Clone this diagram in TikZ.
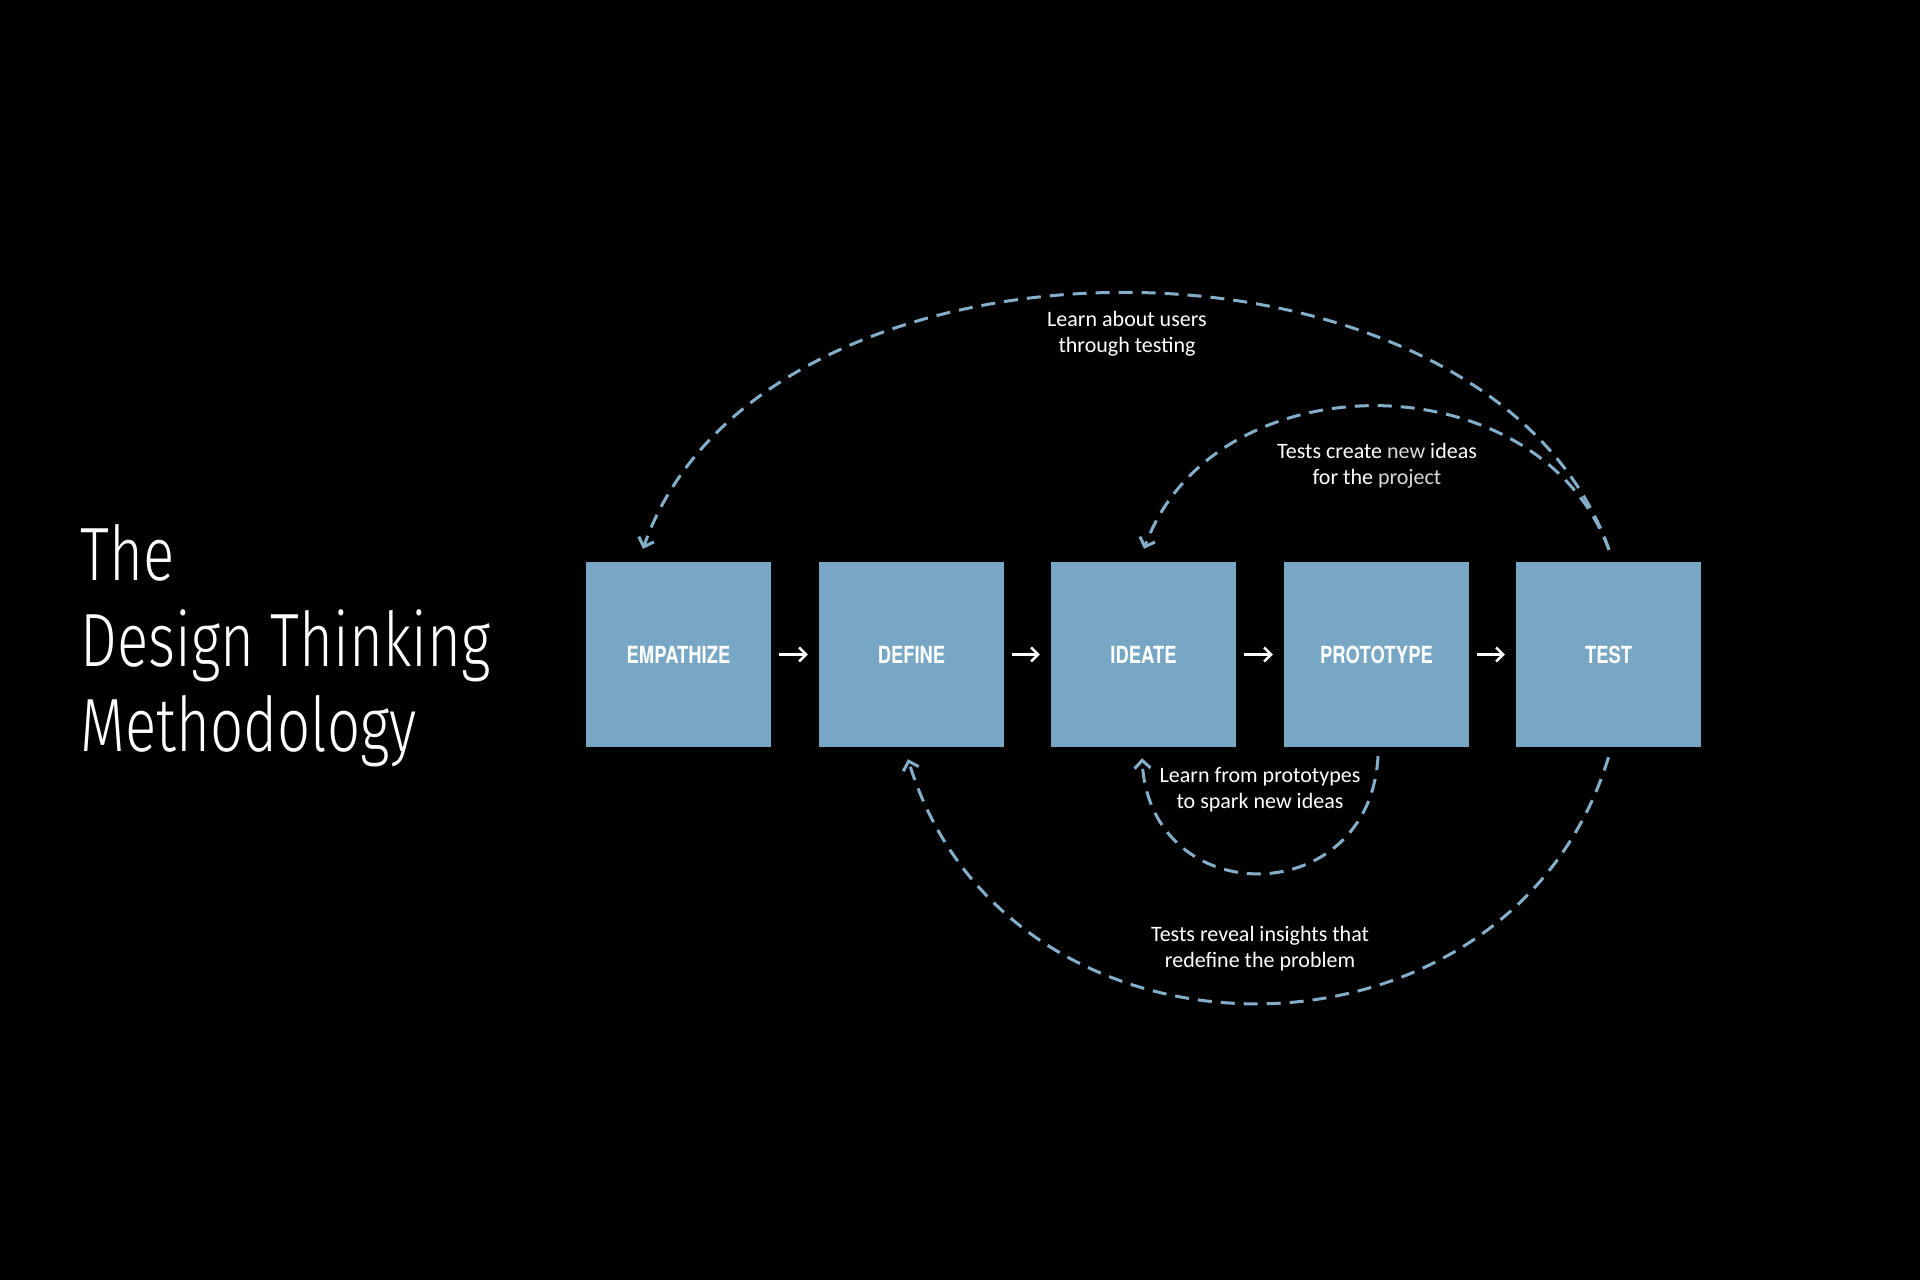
\documentclass[tikz,border=0pt]{standalone}
\usepackage{fontspec}
\usetikzlibrary{arrows.meta,calc}
\setmainfont{Carlito}
\newfontfamily\titlefont{Fira Sans Light}[FakeStretch=0.77]
\newfontfamily\boxfont{TeX Gyre Heros}[FakeStretch=0.78]
\definecolor{boxblue}{HTML}{78A7C5}
\definecolor{loopblue}{HTML}{84AFCB}
\definecolor{softwhite}{HTML}{D9D9D9}
\tikzset{
  stage/.style={rectangle, fill=boxblue, minimum width=185pt, minimum height=185pt, inner sep=0pt,
    font=\boxfont\bfseries\fontsize{23.6}{28}\selectfont, text=white},
  flow/.style={draw=white, line width=2.5pt, -{Straight Barb[length=7pt,width=14pt]}},
  loopline/.style={draw=loopblue, line width=3pt, dash pattern=on 14pt off 9pt,
    -{Straight Barb[length=8pt,width=16pt]}},
  note/.style={text=white, font=\fontsize{22}{26}\selectfont, align=center, inner sep=0pt},
  titletext/.style={text=white, font=\titlefont\fontsize{75.5}{86}\selectfont, inner sep=0pt, anchor=base west}
}
\begin{document}
\begin{tikzpicture}[x=1pt,y=-1pt]
\fill[black] (0,0) rectangle (1920,1280);
\useasboundingbox (0,0) rectangle (1920,1280);

\node[titletext] (title1) at (80.5,580) {The};
\node[titletext] (title2) at (80.5,666) {Design Thinking};
\node[titletext] (title3) at (80.5,751) {Methodology};

\node[stage] (emp) at (678.5,654.5) {EMPATHIZE};
\node[stage] (def) at (911.5,654.5) {DEFINE};
\node[stage] (ide) at (1143.5,654.5) {IDEATE};
\node[stage] (pro) at (1376.5,654.5) {PROTOTYPE};
\node[stage] (tst) at (1608.5,654.5) {TEST};

\draw[flow, shorten <=8pt, shorten >=11pt] (emp) -- (def);
\draw[flow, shorten <=8pt, shorten >=11pt] (def) -- (ide);
\draw[flow, shorten <=8pt, shorten >=11pt] (ide) -- (pro);
\draw[flow, shorten <=8pt, shorten >=11pt] (pro) -- (tst);

\coordinate (tTop) at ($(tst.north)+(0.5,-12)$);
\coordinate (eTop) at ($(emp.north)+(-35.5,-13)$);
\coordinate (iTop) at ($(ide.north)+(0.5,-13)$);
\coordinate (pBot) at ($(pro.south)+(1.5,9)$);
\coordinate (iBot) at ($(ide.south)+(-1.5,11)$);
\coordinate (tBot) at ($(tst.south)+(0,10)$);
\coordinate (dBot) at ($(def.south)+(-3.5,12)$);

\draw[loopline] (tTop) .. controls +(-120,-342) and +(120,-342) .. (eTop);
\draw[loopline] (tTop) .. controls +(-70,-191) and +(70,-191) .. (iTop);
\draw[loopline] (pBot) .. controls +(-8,155) and +(8,155) .. (iBot);
\draw[loopline] (tBot) .. controls +(-100,327) and +(100,327) .. (dBot);

\node[note] (n1) at (1127,334) {Learn about users\\through testing};
\node[note] (n2) at (1377,466) {Tests create {\color{softwhite}new} ideas\\for the {\color{softwhite}project}};
\node[note] (n3) at (1260,790) {Learn from prototypes\\to spark new ideas};
\node[note] (n4) at (1260,949) {Tests reveal insights that\\redefine the problem};
\end{tikzpicture}
\end{document}
